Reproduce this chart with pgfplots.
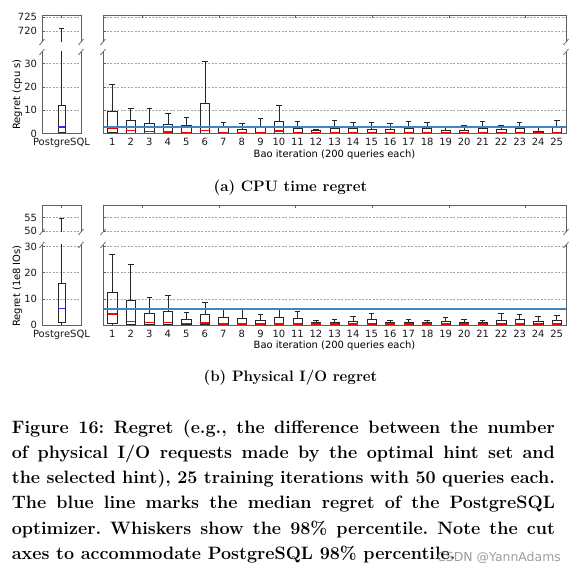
\documentclass[border=0pt]{standalone}
\usepackage{fontspec}
\usepackage{pgfplots}
\usepackage{pgfplotstable}
\pgfplotsset{compat=1.18}
\usepgfplotslibrary{statistics}
\newfontfamily\dejavu{DejaVu Sans}
\definecolor{mplblue}{RGB}{60,135,195}
\definecolor{pgblue}{RGB}{45,45,235}
\definecolor{spine}{RGB}{95,95,95}

\pgfplotstableread{
lw lq med uq uw
0 0.4 2.2 9.6 21.0
0 0.2 1.3 5.6 10.8
0 0.2 0.9 4.3 10.8
0 0.2 0.7 3.9 8.6
0 0.1 0.4 3.6 6.9
0 0.2 1.3 12.9 31.1
0 0.1 0.4 2.6 4.7
0 0.1 0.4 1.9 4.2
0 0.1 0.4 2.6 6.7
0 0.2 1.0 5.3 11.9
0 0.1 0.4 2.4 5.2
0 0.1 0.3 1.4 2.0
0 0.1 0.4 2.2 5.5
0 0.1 0.5 2.4 4.7
0 0.1 0.4 2.0 4.6
0 0.1 0.4 2.0 4.3
0 0.1 0.5 2.3 5.2
0 0.1 0.4 2.2 4.7
0 0.1 0.4 1.3 3.0
0 0.1 0.4 1.4 3.4
0 0.1 0.3 2.4 5.2
0 0.1 0.4 1.6 3.4
0 0.1 0.4 2.4 4.9
0 0.1 0.4 1.1 2.6
0 0.1 0.4 2.6 5.7
}\cpu

\pgfplotstableread{
lw lq med uq uw
0 0.6 4.1 12.4 27.2
0 0.3 1.3 9.6 23.4
0 0.2 0.9 4.3 10.6
0 0.2 1.0 5.1 11.2
0 0.1 0.5 2.0 4.9
0 0.2 0.8 4.0 8.7
0 0.1 0.4 2.8 6.0
0 0.1 0.4 2.4 6.0
0 0.1 0.3 1.8 4.1
0 0.1 0.3 2.9 6.5
0 0.1 0.3 2.4 5.4
0 0.1 0.3 0.9 1.7
0 0.1 0.3 1.1 2.3
0 0.1 0.3 1.4 3.2
0 0.1 0.3 2.2 4.3
0 0.1 0.3 1.0 1.8
0 0.1 0.3 1.0 2.2
0 0.1 0.3 0.9 1.8
0 0.1 0.3 1.5 2.9
0 0.1 0.3 1.1 2.3
0 0.1 0.3 1.1 1.9
0 0.1 0.3 1.9 4.3
0 0.1 0.3 2.2 4.2
0 0.1 0.3 1.4 3.2
0 0.1 0.3 1.8 3.7
}\io

\pgfplotstableread{
lw lq med uq uw
0 0.7 2.8 12.0 721.0
0 1.0 6.3 16.0 54.8
}\pg

\pgfplotsset{
  brkbase/.style={scale only axis, clip mode=individual, axis line style={draw=none},
    tick align=inside, major tick length=3bp,
    tick style={spine, line width=0.5bp},
    ymajorgrids, major grid style={black!35, line width=0.45bp, dash pattern=on 2bp off 1.5bp},
    tick label style={font=\dejavu\fontsize{10}{12}\selectfont, text=black!90},
    /pgf/number format/assume math mode=true,
    ytick pos=left,
    yticklabel style={xshift=-1.5bp},
    xticklabel style={yshift=-1.5bp},
    boxplot/draw direction=y,
    boxplot/every median/.style={red, line width=1.6bp},
  },
  topax/.style={brkbase, xtick pos=right, xticklabel=\empty},
  botax/.style={brkbase, xtick pos=left, xtick style={draw=none}},
  bxs/.style={black!85, line width=0.6bp},
  pgmed/.style={boxplot/every median/.style={pgblue, line width=1.6bp}},
}

% #1 table, #2 row, #3 draw position, #4 box extend, #5 whisker extend, #6 extra style
\newcommand\bxrow[6]{%
  \pgfplotstablegetelem{#2}{lw}\of#1\let\vlw\pgfplotsretval
  \pgfplotstablegetelem{#2}{lq}\of#1\let\vlq\pgfplotsretval
  \pgfplotstablegetelem{#2}{med}\of#1\let\vmed\pgfplotsretval
  \pgfplotstablegetelem{#2}{uq}\of#1\let\vuq\pgfplotsretval
  \pgfplotstablegetelem{#2}{uw}\of#1\let\vuw\pgfplotsretval
  \edef\bxtmp{\noexpand\addplot[bxs, #6, boxplot prepared={draw position=#3,
      lower whisker=\vlw, lower quartile=\vlq, median=\vmed, upper quartile=\vuq,
      upper whisker=\vuw, box extend=#4, whisker extend=#5}] coordinates {};}%
  \bxtmp}

\newcommand\topspine{%
  \draw[spine, line width=0.8bp] (rel axis cs:0,0) -- (rel axis cs:0,1) -- (rel axis cs:1,1) -- (rel axis cs:1,0);
  \draw[spine, line width=0.7bp] (rel axis cs:0,0) ++(-2.5bp,-3bp) -- ++(5bp,6bp);
  \draw[spine, line width=0.7bp] (rel axis cs:1,0) ++(-2.5bp,-3bp) -- ++(5bp,6bp);}
\newcommand\botspine{%
  \draw[spine, line width=0.8bp] (rel axis cs:0,1) -- (rel axis cs:0,0) -- (rel axis cs:1,0) -- (rel axis cs:1,1);
  \draw[spine, line width=0.7bp] (rel axis cs:0,1) ++(-2.5bp,-3bp) -- ++(5bp,6bp);
  \draw[spine, line width=0.7bp] (rel axis cs:1,1) ++(-2.5bp,-3bp) -- ++(5bp,6bp);}

\begin{document}
\frenchspacing
\begin{tikzpicture}
\useasboundingbox (0,0) rectangle (581bp,572bp);

% ================= (a) CPU =================
\begin{axis}[topax, at={(42bp,530bp)}, anchor=south west, width=39bp, height=27bp,
  xmin=0.5, xmax=1.5, xtick={1}, ymin=716.06, ymax=725.85, ytick={720,725}]
\bxrow{\pg}{0}{1}{0.18}{0.12}{pgmed}
\topspine
\end{axis}

\begin{axis}[topax, at={(103bp,530bp)}, anchor=south west, width=463bp, height=27bp,
  xmin=0.5, xmax=25.5, xtick={2.62,6.76,10.9,15.04,19.18,23.32},
  ymin=716.06, ymax=725.85, ytick={720,725}, yticklabel=\empty]
\topspine
\end{axis}

\begin{axis}[botax, at={(42bp,438.5bp)}, anchor=south west, width=39bp, height=81.5bp,
  xmin=0.5, xmax=1.5, xtick={1}, xticklabels={PostgreSQL}, ymin=0, ymax=35, ytick={0,10,20,30}]
\bxrow{\pg}{0}{1}{0.18}{0.12}{pgmed}
\botspine
\end{axis}

\begin{axis}[botax, at={(103bp,438.5bp)}, anchor=south west, width=463bp, height=81.5bp,
  xmin=0.5, xmax=25.5, xtick={1,...,25}, ymin=0, ymax=35, ytick={0,10,20,30}, yticklabel=\empty]
\pgfplotsforeachungrouped \i in {1,...,25}{%
  \pgfmathtruncatemacro\r{\i-1}%
  \bxrow{\cpu}{\r}{\i}{0.5}{0.3}{}%
}
\addplot[mplblue, line width=1.8bp] coordinates {(0.5,2.85) (25.5,2.85)};
\botspine
\end{axis}

% ================= (b) IO =================
\begin{axis}[topax, at={(42bp,340bp)}, anchor=south west, width=39bp, height=27bp,
  xmin=0.5, xmax=1.5, xtick={1}, ymin=49.6, ymax=59.75, ytick={50,55}]
\bxrow{\pg}{1}{1}{0.18}{0.12}{pgmed}
\topspine
\end{axis}

\begin{axis}[topax, at={(103bp,340bp)}, anchor=south west, width=463bp, height=27bp,
  xmin=0.5, xmax=25.5, xtick={2.62,6.76,10.9,15.04,19.18,23.32},
  ymin=49.6, ymax=59.75, ytick={50,55}, yticklabel=\empty]
\topspine
\end{axis}

\begin{axis}[botax, at={(42bp,247bp)}, anchor=south west, width=39bp, height=80bp,
  xmin=0.5, xmax=1.5, xtick={1}, xticklabels={PostgreSQL}, ymin=0, ymax=30.6, ytick={0,10,20,30}]
\bxrow{\pg}{1}{1}{0.18}{0.12}{pgmed}
\botspine
\end{axis}

\begin{axis}[botax, at={(103bp,247bp)}, anchor=south west, width=463bp, height=80bp,
  xmin=0.5, xmax=25.5, xtick={1,...,25}, ymin=0, ymax=30.6, ytick={0,10,20,30}, yticklabel=\empty]
\pgfplotsforeachungrouped \i in {1,...,25}{%
  \pgfmathtruncatemacro\r{\i-1}%
  \bxrow{\io}{\r}{\i}{0.5}{0.3}{}%
}
\addplot[mplblue, line width=1.8bp] coordinates {(0.5,6.25) (25.5,6.25)};
\botspine
\end{axis}

% ================= labels =================
\node[font=\dejavu\fontsize{10}{12}\selectfont, anchor=base] at (334.5bp,414.5bp) {Bao iteration (200 queries each)};
\node[font=\dejavu\fontsize{10}{12}\selectfont, anchor=base] at (334.5bp,223bp) {Bao iteration (200 queries each)};
\node[font=\dejavu\fontsize{10}{12}\selectfont, anchor=base, rotate=90] at (20bp,477.5bp) {Regret (cpu s)};
\node[font=\dejavu\fontsize{10}{12}\selectfont, anchor=base, rotate=90] at (20bp,286bp) {Regret (1e8 IOs)};

\node[font=\bfseries\fontsize{15.2}{18}\selectfont, anchor=base] at (290.5bp,380bp) {(a) CPU time regret};
\node[font=\bfseries\fontsize{15.2}{18}\selectfont, anchor=base] at (290.5bp,190bp) {(b) Physical I/O regret};

% ================= caption =================
\begin{scope}[every node/.style={anchor=base west, inner sep=0pt, font=\bfseries\fontsize{18}{25}\selectfont}]
\node at (11.7bp,138bp) {\makebox[543bp][s]{Figure 16: Regret (e.g., the difference between the number}};
\node at (11.7bp,113bp) {\makebox[543bp][s]{of physical I/O requests made by the optimal hint set and}};
\node at (11.7bp,88bp) {\makebox[543bp][s]{the selected hint), 25 training iterations with 50 queries each.}};
\node at (11.7bp,63bp) {\makebox[543bp][s]{The blue line marks the median regret of the PostgreSQL}};
\node at (11.7bp,38bp) {\makebox[543bp][s]{optimizer. Whiskers show the 98\% percentile. Note the cut}};
\node at (11.7bp,13bp) {axes to accommodate PostgreSQL 98\% percentile.};
\end{scope}
\node[anchor=base west, inner sep=0pt, font=\dejavu\fontsize{12.5}{14}\selectfont, text=black!45, text opacity=0.85] at (437bp,11bp) {CSDN @YannAdams};
\end{tikzpicture}
\end{document}
